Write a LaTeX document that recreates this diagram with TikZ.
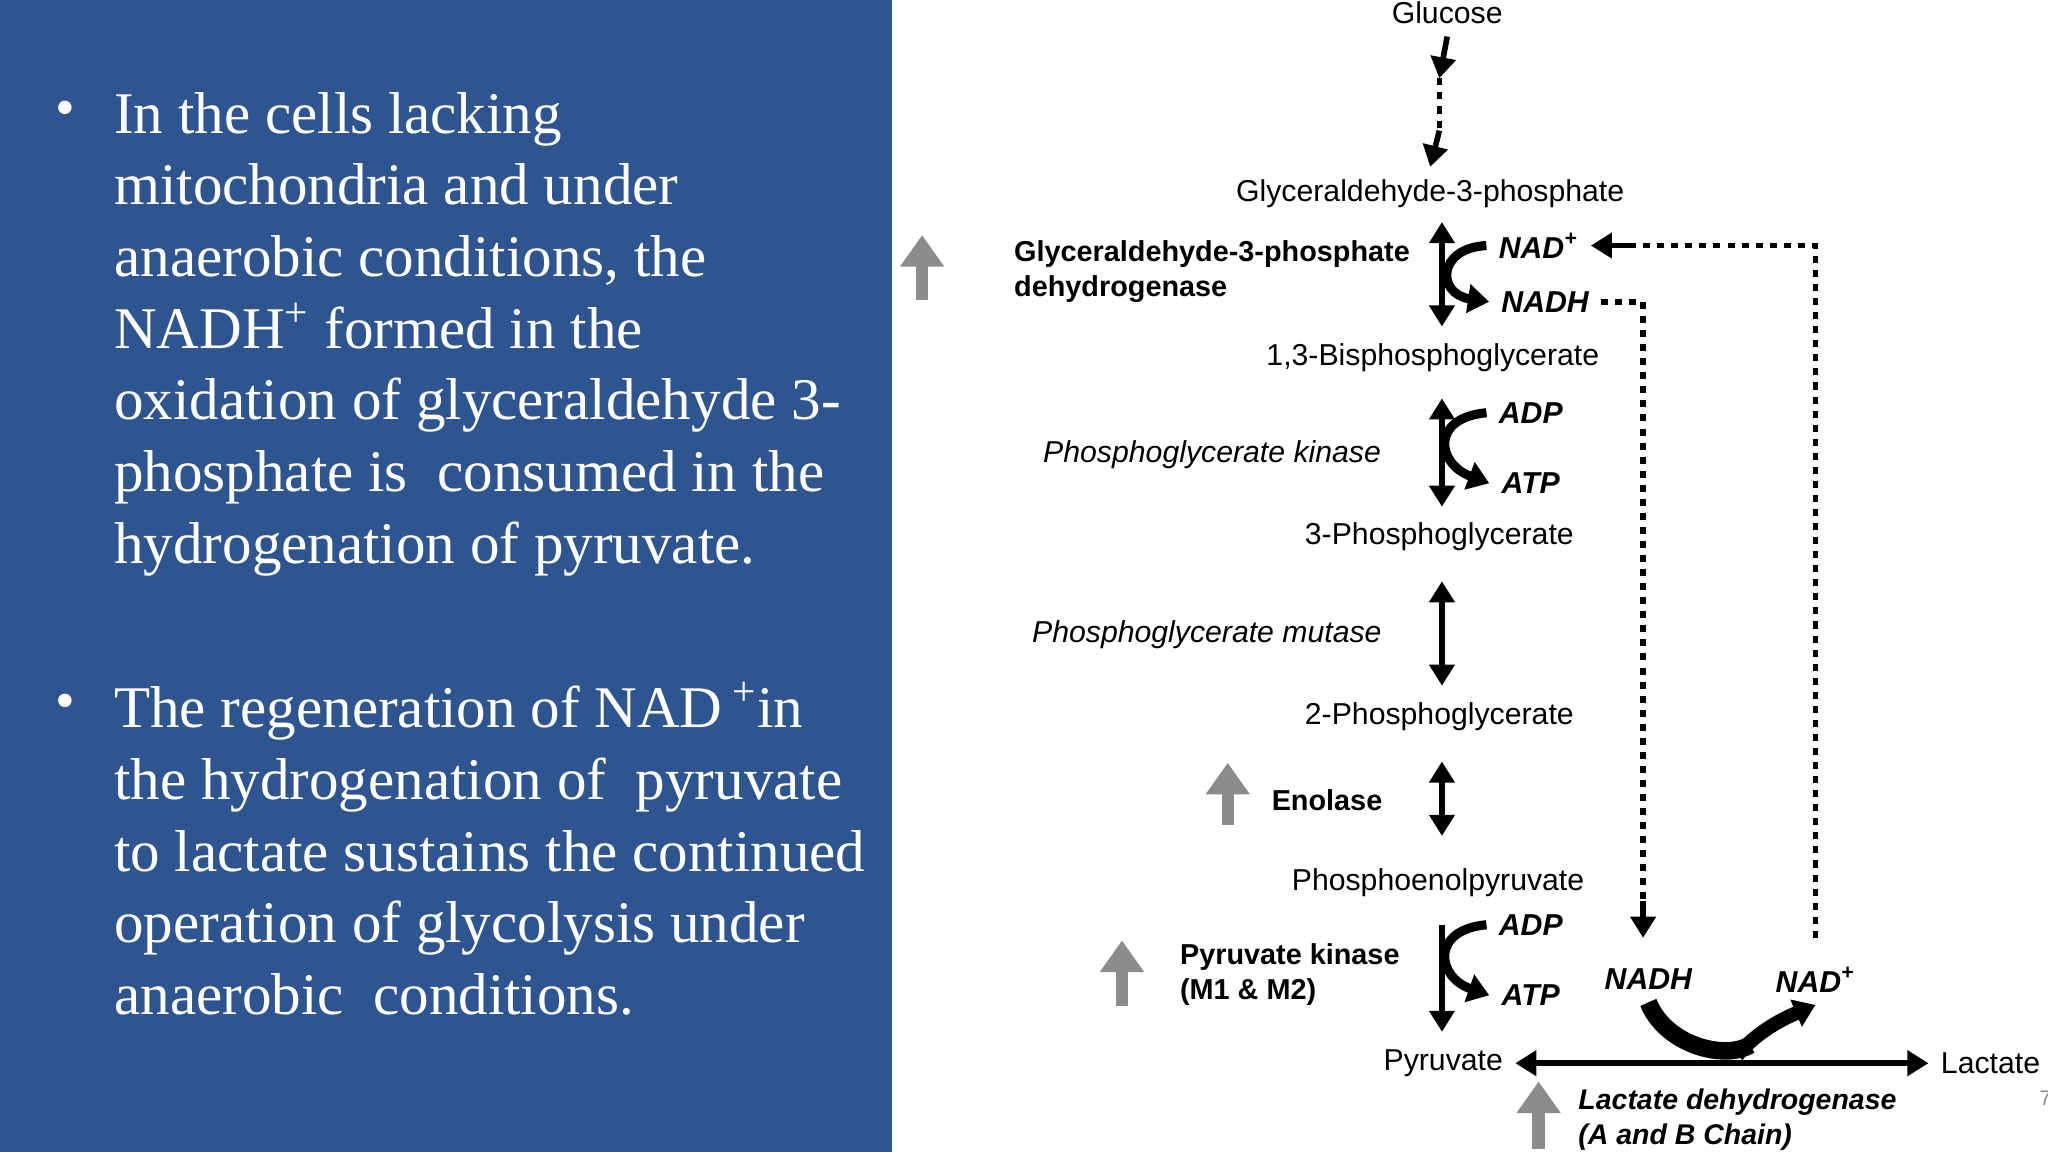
\documentclass[tikz,border=0pt]{standalone}
\usepackage{fontspec}
\setmainfont{Liberation Serif}
\newfontfamily\arialf{Liberation Sans}
\usetikzlibrary{arrows.meta}
\definecolor{panel}{HTML}{2F5590}
\definecolor{garrow}{HTML}{8C8C8C}
\begin{document}
\begin{tikzpicture}[x=0.013061cm,y=-0.013061cm,
  met/.style={font=\arialf\fontsize{8.6}{10}\selectfont},
  enz/.style={font=\arialf\bfseries\fontsize{8.2}{10}\selectfont},
  enzi/.style={font=\arialf\itshape\fontsize{8.6}{10}\selectfont},
  cof/.style={font=\arialf\bfseries\itshape\fontsize{8.6}{10}\selectfont},
  rx/.style={line width=1.6pt,{Triangle[length=6pt,width=7pt]}-{Triangle[length=6pt,width=7pt]}},
  one/.style={line width=1.6pt,-{Triangle[length=6pt,width=7pt]}},
  curv/.style={line width=2.6pt,-{Triangle[length=6pt,width=8pt]}},
  dots/.style={line width=1.6pt,dash pattern=on 2pt off 2pt},
  gup/.style={garrow,line width=3.5pt,-{Triangle[length=9pt,width=12pt]}},
  bul/.style={text=white,font=\fontsize{16.8}{20.4}\selectfont,anchor=north west,align=left}]
\useasboundingbox (0,0) rectangle (1568,882);
\fill[white] (0,0) rectangle (1568,882);
\fill[panel] (0,0) rectangle (683,882);
% bullets
\node[text=white,font=\fontsize{16}{20}\selectfont] (b1) at (50,87) {•};
\node[bul] (t1) at (78,61) {In the cells lacking\\mitochondria and under\\anaerobic conditions, the\\NADH\textsuperscript{+} formed in the\\oxidation of glyceraldehyde 3-\\phosphate is\ \ consumed in the\\hydrogenation of pyruvate.};
\node[text=white,font=\fontsize{16}{20}\selectfont] (b2) at (50,541) {•};
\node[bul] (t2) at (78,513) {The regeneration of NAD\,\textsuperscript{+}in\\the hydrogenation of\ \ pyruvate\\to lactate sustains the continued\\operation of glycolysis under\\anaerobic\ \ conditions.};
% metabolites
\node[met] (glc) at (1108,10) {Glucose};
\node[met] (g3p) at (1095,148) {Glyceraldehyde-3-phosphate};
\node[met] (bpg) at (1097,274) {1,3-Bisphosphoglycerate};
\node[met] (p3g) at (1102,411) {3-Phosphoglycerate};
\node[met] (p2g) at (1102,549) {2-Phosphoglycerate};
\node[met] (pep) at (1101,676) {Phosphoenolpyruvate};
\node[met] (pyr) at (1105,814) {Pyruvate};
\node[met] (lac) at (1524,814) {Lactate};
% enzymes
\node[enz,anchor=west,align=left] (gapdh) at (767,208) {Glyceraldehyde-3-phosphate\\dehydrogenase};
\node[enzi] (pgk) at (928,348) {Phosphoglycerate kinase};
\node[enzi] (pgm) at (924,486) {Phosphoglycerate mutase};
\node[enz] (eno) at (1016,613) {Enolase};
\node[enz,anchor=west,align=left] (pk) at (894,746) {Pyruvate kinase\\(M1 \& M2)};
\node[cof,anchor=west,align=left,font=\arialf\bfseries\itshape\fontsize{8.1}{10}\selectfont] (ldh) at (1199,857) {Lactate dehydrogenase\\(A and B Chain)};
% cofactors
\node[cof] (nad1) at (1178,188) {NAD\textsuperscript{+}};
\node[cof] (nadh1) at (1183,231) {NADH};
\node[cof] (adp1) at (1172,316) {ADP};
\node[cof] (atp1) at (1172,370) {ATP};
\node[cof] (adp2) at (1172,708) {ADP};
\node[cof] (atp2) at (1172,762) {ATP};
\node[cof] (nadh2) at (1262,750) {NADH};
\node[cof] (nad2) at (1390,750) {NAD\textsuperscript{+}};
\node[font=\arialf\fontsize{6}{7}\selectfont,text=garrow] (pg) at (1566,841) {7};
% main pathway
\coordinate (gl1) at (1102,60);
\coordinate (gl2) at (1102,100);
\draw[one] (glc.south) -- (gl1);
\draw[dots] (gl1) -- (gl2);
\draw[one] (gl2) -- (g3p.north);
\draw[rx] (1104,170) -- (1104,250);
\draw[rx] (1104,305) -- (1104,388);
\draw[rx] (1104,445) -- (1104,525);
\draw[rx] (1104,583) -- (1104,640);
\draw[one] (1104,708) -- (1104,790);
\draw[rx] (pyr.east) -- (lac.west);
% curved cofactor arrows
\draw[curv] (nad1.west) .. controls (1100,190) and (1100,225) .. (nadh1.west);
\draw[curv] (adp1.west) .. controls (1095,320) and (1100,355) .. (atp1.west);
\draw[curv] (adp2.west) .. controls (1095,712) and (1100,748) .. (atp2.west);
\draw[line width=5pt] (nadh2.south) .. controls (1275,800) and (1320,812) .. (1340,800);
\draw[curv,line width=4pt] (1330,808) .. controls (1345,790) and (1365,780) .. (nad2.south);
% dotted loops
\coordinate (d1) at (1258,231);
\coordinate (d2) at (1258,718);
\coordinate (d3) at (1390,188);
\coordinate (d4) at (1390,718);
\draw[dots] (nadh1.east) -- (d1) -- (1258,690);
\draw[one] (1258,690) -- (d2);
\draw[dots] (d4) -- (d3) -- (1250,188);
\draw[one] (1250,188) -- (nad1.east);
% grey up arrows
\draw[gup] (706,230) -- (706,180);
\draw[gup] (940,632) -- (940,584);
\draw[gup] (859,770) -- (859,720);
\draw[gup] (1178,880) -- (1178,828);
\end{tikzpicture}
\end{document}
